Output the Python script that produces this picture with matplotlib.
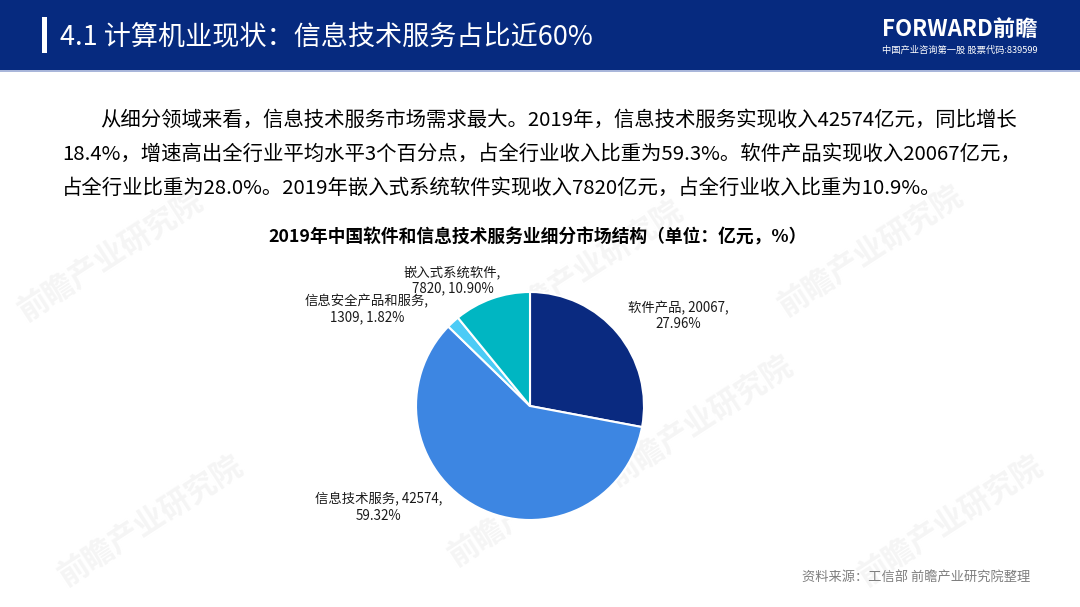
import matplotlib.pyplot as plt
from matplotlib.patches import Rectangle

plt.rcParams['font.family'] = ['Noto Sans CJK SC', 'DejaVu Sans']

# data
segments = ['软件产品', '信息技术服务', '信息安全产品和服务', '嵌入式系统软件']
values = [20067, 42574, 1309, 7820]
percents = [27.96, 59.32, 1.82, 10.90]
colors = ['#0a2a80', '#3d86e2', '#4ccbf6', '#00b6c2']

title = '4.1 计算机业现状：信息技术服务占比近60%'
body_lines = [
    '从细分领域来看，信息技术服务市场需求最大。2019年，信息技术服务实现收入42574亿元，同比增长',
    '18.4%，增速高出全行业平均水平3个百分点，占全行业收入比重为59.3%。软件产品实现收入20067亿元，',
    '占全行业比重为28.0%。2019年嵌入式系统软件实现收入7820亿元，占全行业收入比重为10.9%。',
]
chart_title = '2019年中国软件和信息技术服务业细分市场结构（单位：亿元，%）'
source = '资料来源：工信部 前瞻产业研究院整理'

W, H = 1080, 607
fig = plt.figure(figsize=(W / 100, H / 100), dpi=100)
fig.patch.set_facecolor('white')

# header band
hdr = fig.add_axes([0, 0, 1, 1], zorder=0)
hdr.set_xlim(0, W)
hdr.set_ylim(H, 0)
hdr.axis('off')
hdr.add_patch(Rectangle((0, 0), W, 70, color='#062a7f', lw=0))
hdr.add_patch(Rectangle((0, 70), W, 2, color='#a9b6da', lw=0))
hdr.add_patch(Rectangle((42, 17), 5, 36, color='white', lw=0))
hdr.text(60, 37, title, color='white', fontsize=19.5, va='center', ha='left')
hdr.text(960, 29, 'FORWARD前瞻', color='white', fontsize=16, fontweight='bold',
         va='center', ha='center')
hdr.text(960, 50, '中国产业咨询第一股 股票代码:839599', color='white', fontsize=6.7,
         va='center', ha='center')

# faint watermarks
for wx, wy in [(110, 255), (590, 265), (870, 250), (700, 420), (150, 520), (540, 500), (950, 520)]:
    hdr.text(wx, wy, '前瞻产业研究院', color='#f5f5f5', fontsize=22, rotation=33,
             ha='center', va='center', fontweight='bold', zorder=0)

# body paragraph
body_x = [100, 62, 62]
body_y = [120, 154, 188]
for bx, by, line in zip(body_x, body_y, body_lines):
    hdr.text(bx, by, line, fontsize=14.7, va='center', ha='left', color='black')

hdr.text(538, 237, chart_title, fontsize=12.8, fontweight='bold', va='center', ha='center')
hdr.text(1030, 578, source, fontsize=9.5, color='#7f7f7f', va='center', ha='right')

# pie
R = 114
cx, cy = 530, 406
span = 1.5
ax = fig.add_axes([(cx - span * R) / W, (H - cy - span * R) / H,
                   2 * span * R / W, 2 * span * R / H], zorder=2)
wedges, _ = ax.pie(values, colors=colors, startangle=90, counterclock=False,
                   radius=1, wedgeprops=dict(edgecolor='white', linewidth=1.5))
ax.set_xlim(-span, span)
ax.set_ylim(-span, span)
ax.set_aspect('equal')
ax.axis('off')

labels = [
    f'{segments[0]}, {values[0]},\n{percents[0]:.2f}%',
    f'{segments[1]}, {values[1]},\n{percents[1]:.2f}%',
    f'{segments[2]},\n{values[2]}, {percents[2]:.2f}%',
    f'{segments[3]},\n{values[3]}, {percents[3]:.2f}%',
]
label_pos = [(1.30, 0.79), (-1.33, -0.89), (-1.43, 0.85), (-0.68, 1.105)]
for txt, (lx, ly) in zip(labels, label_pos):
    ax.text(lx, ly, txt, fontsize=9.6, ha='center', va='center', color='#1a1a1a',
            linespacing=1.2, clip_on=False)

fig.savefig('out.png', dpi=100)
